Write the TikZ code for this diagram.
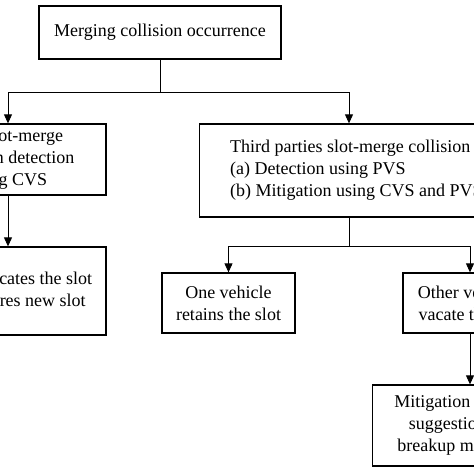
\documentclass[tikz,border=0pt]{standalone}
\usepackage{fontspec}
\setmainfont{Liberation Serif}
\usetikzlibrary{arrows.meta}
\begin{document}
\begin{tikzpicture}[x=1pt,y=-1pt,
  box/.style={draw,line width=1.3pt,inner sep=0pt,align=center,
    font=\fontsize{18}{22}\selectfont},
  conn/.style={line width=0.9pt},
  arr/.style={conn,-{Triangle[length=9pt,width=8pt]}}]
\useasboundingbox (0,0) rectangle (474,474);
\clip (0,0) rectangle (474,474);
\fill[white] (0,0) rectangle (474,474);
\node[box,minimum width=242pt,minimum height=53pt] (top) at (160,32.5) {Merging collision occurrence};
\node[box,minimum width=196pt,minimum height=71pt] (lb1) at (8,159.5) {Self slot-merge\\collision detection\\using CVS};
\node[box,minimum width=196pt,minimum height=88pt] (lb2) at (8,291) {Vehicle vacates the slot\\and acquires new slot};
\node[box,anchor=west,align=left,inner xsep=30.5pt,minimum height=93pt] (rb) at (199,170.5) {Third parties slot-merge collision\\(a) Detection using PVS\\(b) Mitigation using CVS and PVS};
\node[box,minimum width=133pt,minimum height=60pt] (b3) at (228.5,303) {One vehicle\\retains the slot};
\node[box,minimum width=134pt,minimum height=60pt] (b4) at (470,303) {Other vehicles\\vacate the slot};
\node[box,anchor=west,minimum width=180pt,minimum height=81pt] (b5) at (372,425.5) {Mitigation through\\suggestion and\\breakup messages};
\coordinate (j1) at (160,92);
\coordinate (j2) at (349,246);
\draw[conn] (top.south) -- (j1);
\draw[arr] (j1) -| (lb1.north);
\draw[arr] (j1) -| (rb.north -| j2);
\draw[arr] (lb1.south) -- (lb2.north);
\draw[conn] (rb.south -| j2) -- (j2);
\draw[arr] (j2) -| (b3.north);
\draw[arr] (j2) -| (b4.north);
\draw[arr] (b4.south) -- (b4.south |- b5.north);
\end{tikzpicture}
\end{document}
